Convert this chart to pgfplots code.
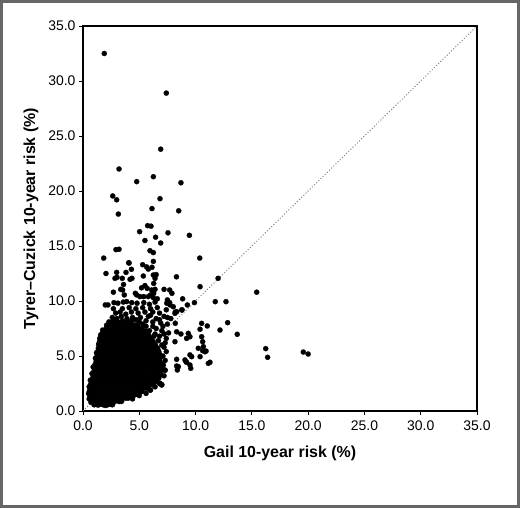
\documentclass[border=0pt]{standalone}
\usepackage{fontspec}
\setmainfont{Liberation Sans}
\usepackage{pgfplots}
\pgfplotsset{compat=1.18}
\begin{document}
\begin{tikzpicture}[x=1bp,y=1bp]
\useasboundingbox (0,0) rectangle (520,508);
\draw[draw=black!60, line width=3bp] (1.5,1.5) rectangle (518.5,506.5);
\begin{axis}[
  at={(83bp,97bp)}, anchor=south west, width=394bp, height=385bp, scale only axis,
  xmin=0,xmax=35,ymin=0,ymax=35,
  xtick={0,5,...,35}, ytick={0,5,...,35},
  tick pos=left, tick align=outside, major tick length=4bp,
  tick style={black, line width=0.8bp},
  axis line style={black, line width=1.2bp},
  /pgf/number format/assume math mode=true,
  /pgf/number format/fixed, /pgf/number format/fixed zerofill, /pgf/number format/precision=1,
  ticklabel style={font=\fontsize{14}{16}\selectfont},
  xticklabel style={yshift=-2bp},
  xlabel={Gail 10-year risk (\%)},
  ylabel={Tyrer–Cuzick 10-year risk (\%)},
  xlabel style={font=\fontsize{16}{19}\selectfont\bfseries, at={(axis description cs:0.5,-0.11)}, anchor=center},
  ylabel style={font=\fontsize{16}{19}\selectfont\bfseries, at={(axis description cs:-0.132,0.5)}, anchor=center},
]
\addplot[gray, dotted, line width=1bp] coordinates {(0,0) (35,35)};
% dense core of the cloud
\addplot[only marks, mark=*, mark size=3.0bp, mark options={fill=black, draw=black, line width=0.2bp}] table {
x y
1.0 0.6
1.4 0.6
1.8 0.6
2.2 0.6
2.6 0.6
0.8 0.9
1.2 0.9
1.6 0.9
2.0 0.9
2.4 0.9
2.8 0.9
3.2 0.9
3.4 0.9
0.65 1.2
1.0 1.2
1.4 1.2
1.8 1.2
2.2 1.2
2.6 1.2
3.0 1.2
3.4 1.2
3.8 1.2
4.0 1.2
0.6 1.5
1.0 1.5
1.4 1.5
1.8 1.5
2.2 1.5
2.6 1.5
3.0 1.5
3.4 1.5
3.8 1.5
4.2 1.5
4.6 1.5
0.6 1.8
1.0 1.8
1.4 1.8
1.8 1.8
2.2 1.8
2.6 1.8
3.0 1.8
3.4 1.8
3.8 1.8
4.2 1.8
4.6 1.8
5.0 1.8
5.2 1.8
0.65 2.1
1.0 2.1
1.4 2.1
1.8 2.1
2.2 2.1
2.6 2.1
3.0 2.1
3.4 2.1
3.8 2.1
4.2 2.1
4.6 2.1
5.0 2.1
5.4 2.1
5.7 2.1
0.7 2.4
1.1 2.4
1.5 2.4
1.9 2.4
2.3 2.4
2.7 2.4
3.1 2.4
3.5 2.4
3.9 2.4
4.3 2.4
4.7 2.4
5.1 2.4
5.5 2.4
5.9 2.4
6.2 2.4
0.8 2.7
1.2 2.7
1.6 2.7
2.0 2.7
2.4 2.7
2.8 2.7
3.2 2.7
3.6 2.7
4.0 2.7
4.4 2.7
4.8 2.7
5.2 2.7
5.6 2.7
6.0 2.7
6.4 2.7
0.9 3.0
1.3 3.0
1.7 3.0
2.1 3.0
2.5 3.0
2.9 3.0
3.3 3.0
3.7 3.0
4.1 3.0
4.5 3.0
4.9 3.0
5.3 3.0
5.7 3.0
6.1 3.0
6.5 3.0
6.7 3.0
0.95 3.3
1.35 3.3
1.75 3.3
2.15 3.3
2.55 3.3
2.95 3.3
3.35 3.3
3.75 3.3
4.15 3.3
4.55 3.3
4.95 3.3
5.35 3.3
5.75 3.3
6.15 3.3
6.55 3.3
6.85 3.3
1.0 3.6
1.4 3.6
1.8 3.6
2.2 3.6
2.6 3.6
3.0 3.6
3.4 3.6
3.8 3.6
4.2 3.6
4.6 3.6
5.0 3.6
5.4 3.6
5.8 3.6
6.2 3.6
6.6 3.6
6.9 3.6
1.05 3.9
1.45 3.9
1.85 3.9
2.25 3.9
2.65 3.9
3.05 3.9
3.45 3.9
3.85 3.9
4.25 3.9
4.65 3.9
5.05 3.9
5.45 3.9
5.85 3.9
6.25 3.9
6.65 3.9
6.9 3.9
1.1 4.2
1.5 4.2
1.9 4.2
2.3 4.2
2.7 4.2
3.1 4.2
3.5 4.2
3.9 4.2
4.3 4.2
4.7 4.2
5.1 4.2
5.5 4.2
5.9 4.2
6.3 4.2
6.7 4.2
6.9 4.2
1.2 4.5
1.6 4.5
2.0 4.5
2.4 4.5
2.8 4.5
3.2 4.5
3.6 4.5
4.0 4.5
4.4 4.5
4.8 4.5
5.2 4.5
5.6 4.5
6.0 4.5
6.4 4.5
6.8 4.5
1.25 4.8
1.65 4.8
2.05 4.8
2.45 4.8
2.85 4.8
3.25 4.8
3.65 4.8
4.05 4.8
4.45 4.8
4.85 4.8
5.25 4.8
5.65 4.8
6.05 4.8
6.45 4.8
6.8 4.8
1.3 5.1
1.7 5.1
2.1 5.1
2.5 5.1
2.9 5.1
3.3 5.1
3.7 5.1
4.1 5.1
4.5 5.1
4.9 5.1
5.3 5.1
5.7 5.1
6.1 5.1
6.5 5.1
6.8 5.1
1.35 5.4
1.75 5.4
2.15 5.4
2.55 5.4
2.95 5.4
3.35 5.4
3.75 5.4
4.15 5.4
4.55 5.4
4.95 5.4
5.35 5.4
5.75 5.4
6.15 5.4
6.5 5.4
6.7 5.4
1.4 5.7
1.8 5.7
2.2 5.7
2.6 5.7
3.0 5.7
3.4 5.7
3.8 5.7
4.2 5.7
4.6 5.7
5.0 5.7
5.4 5.7
5.8 5.7
6.2 5.7
6.6 5.7
1.45 6.0
1.85 6.0
2.25 6.0
2.65 6.0
3.05 6.0
3.45 6.0
3.85 6.0
4.25 6.0
4.65 6.0
5.05 6.0
5.45 6.0
5.85 6.0
6.25 6.0
6.4 6.0
1.5 6.3
1.9 6.3
2.3 6.3
2.7 6.3
3.1 6.3
3.5 6.3
3.9 6.3
4.3 6.3
4.7 6.3
5.1 6.3
5.5 6.3
5.9 6.3
6.2 6.3
1.55 6.6
1.95 6.6
2.35 6.6
2.75 6.6
3.15 6.6
3.55 6.6
3.95 6.6
4.35 6.6
4.75 6.6
5.15 6.6
5.55 6.6
6.0 6.6
1.6 6.9
2.0 6.9
2.4 6.9
2.8 6.9
3.2 6.9
3.6 6.9
4.0 6.9
4.4 6.9
4.8 6.9
5.2 6.9
5.6 6.9
5.8 6.9
1.8 7.2
2.2 7.2
2.6 7.2
3.0 7.2
3.4 7.2
3.8 7.2
4.2 7.2
4.6 7.2
5.0 7.2
5.4 7.2
5.6 7.2
2.1 7.5
2.5 7.5
2.9 7.5
3.3 7.5
3.7 7.5
4.1 7.5
4.5 7.5
4.9 7.5
5.2 7.5
2.5 7.8
2.9 7.8
3.3 7.8
3.7 7.8
4.1 7.8
4.5 7.8
4.8 7.8
};
% scattered points
\addplot[only marks, mark=*, mark size=2.6bp, mark options={fill=black, draw=black, line width=0.2bp}] table {
x y
4.4 1.1
5.0 1.4
5.6 1.6
6.0 1.9
6.4 2.2
6.8 2.5
7.0 2.4
7.2 3.2
6.8 3.8
7.1 4.2
7.3 3.7
7.3 4.6
7.1 5.0
7.4 5.4
7.2 5.8
7.0 6.0
7.3 6.2
6.7 6.4
7.4 6.6
6.3 6.8
6.8 6.8
6.4 7.0
7.0 7.3
7.2 7.0
7.6 7.1
5.9 7.3
6.5 7.5
6.2 7.7
7.1 7.7
6.9 8.0
7.5 7.9
5.6 7.7
5.3 7.9
5.0 8.1
5.6 8.2
6.2 8.1
6.5 8.4
6.8 8.3
7.2 8.6
7.5 8.5
7.8 8.4
5.8 8.6
2.1 7.8
2.3 8.1
2.7 8.2
3.1 8.1
3.5 8.2
3.9 8.1
4.3 8.2
4.7 8.3
2.6 8.5
3.0 8.4
3.4 8.6
3.9 8.4
4.4 8.5
5.1 8.5
6.0 8.7
2.9 8.9
3.3 9.0
3.8 8.8
4.3 9.0
4.9 8.9
5.5 9.0
6.2 9.0
6.8 8.9
2.7 9.3
3.5 9.3
4.1 9.4
4.7 9.3
5.3 9.4
6.0 9.3
6.6 9.4
7.4 9.2
8.2 9.0
8.8 9.2
2.75 9.85
3.1 9.8
3.58 9.9
3.88 9.95
4.33 9.85
4.8 9.8
5.4 9.85
5.9 9.7
6.4 9.9
7.5 10.1
7.7 9.85
1.5 6.6
1.4 6.1
1.2 5.3
1.1 4.8
0.9 4.0
0.8 3.4
0.65 2.8
0.55 2.2
0.5 1.6
0.55 1.1
0.7 0.8
1.3 0.55
2.0 0.5
1.89 32.5
7.4 28.9
6.9 23.8
3.2 22.0
6.25 21.3
4.77 20.85
8.7 20.75
2.64 19.55
2.99 19.2
6.84 19.3
3.14 17.9
6.13 18.4
8.5 18.2
5.03 16.3
7.55 16.2
9.45 15.97
5.74 16.85
6.04 16.8
5.5 15.5
6.45 15.8
6.9 15.27
2.93 14.67
3.2 14.7
5.95 14.57
6.25 14.4
1.84 13.9
10.37 13.9
4.09 13.45
5.3 13.3
6.25 13.6
4.06 13.48
6.13 13.06
5.65 13.1
5.8 12.9
2.04 12.5
2.99 12.6
3.02 12.15
3.82 12.6
4.3 12.88
4.35 12.06
2.84 12.06
3.49 12.06
4.18 11.97
5.36 12.27
6.25 12.36
6.4 12.06
6.5 12.4
8.3 12.2
12.0 12.06
2.7 10.8
3.35 11.06
3.52 11.0
3.67 10.55
3.6 11.5
5.2 11.2
5.5 11.4
5.7 11.15
6.1 11.0
6.4 11.06
6.28 11.6
7.2 11.06
10.4 11.3
4.77 10.55
5.06 10.4
5.39 10.4
5.8 10.4
6.0 10.55
6.25 10.3
6.28 10.7
6.6 10.2
4.65 10.7
7.7 11.0
7.9 10.7
8.85 10.2
9.9 9.85
11.75 9.94
12.7 9.94
15.43 10.8
1.98 9.64
2.22 9.64
7.44 9.8
7.73 9.64
8.02 9.48
8.32 9.03
8.17 8.88
8.77 9.18
9.27 9.64
10.54 7.97
11.04 7.73
12.85 8.03
12.17 7.36
13.7 6.97
10.4 7.43
10.54 6.75
10.63 6.3
10.69 5.85
10.63 5.48
10.93 5.45
10.24 5.7
10.4 4.94
10.84 5.39
11.13 4.33
11.28 4.43
16.23 5.67
16.4 4.88
19.57 5.36
20.0 5.18
8.2 7.97
8.32 7.2
8.7 7.0
9.35 7.06
9.2 6.6
9.5 6.75
8.17 6.3
8.32 4.7
9.06 4.64
9.15 4.48
8.32 4.09
8.38 3.73
8.47 4.03
9.5 4.18
9.57 3.88
9.2 4.43
9.5 5.1
9.65 4.94
7.28 3.73
7.13 4.18
6.84 2.52
6.99 2.36
5.95 1.9
1.75 7.36
2.28 7.66
2.87 7.97
2.58 7.2
};
\end{axis}
\end{tikzpicture}
\end{document}
